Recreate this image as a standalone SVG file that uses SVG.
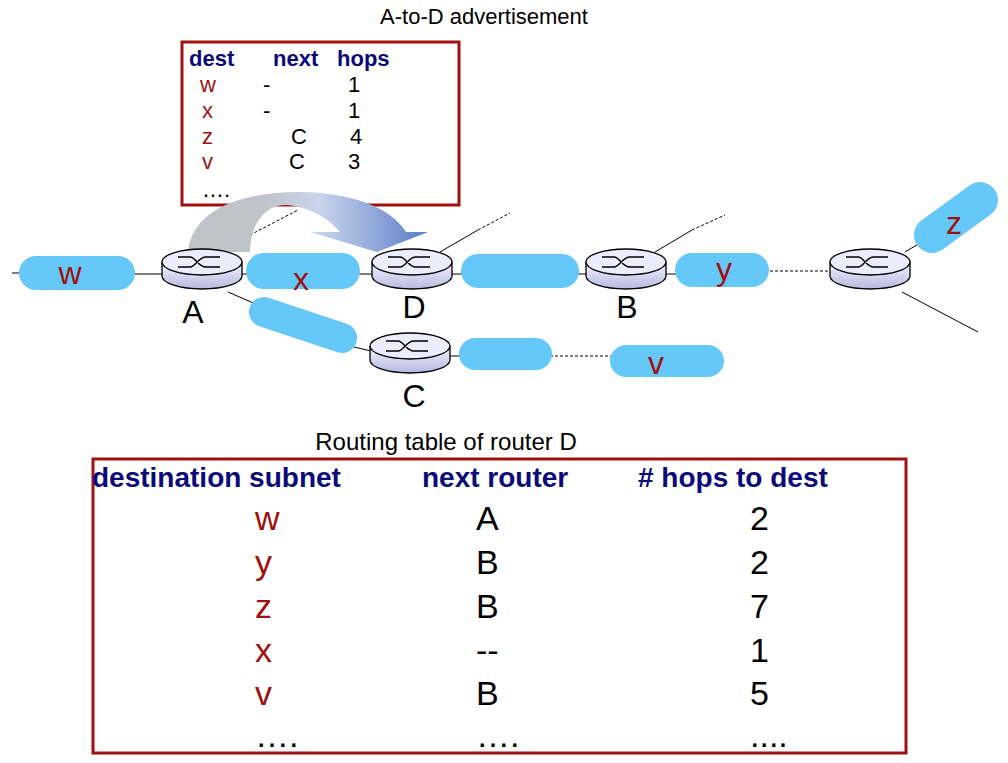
<svg xmlns="http://www.w3.org/2000/svg" width="1008" height="763" viewBox="0 0 1008 763">
<defs>
<linearGradient id="rt" x1="0" y1="0" x2="0" y2="1"><stop offset="0" stop-color="#f4f4ff"/><stop offset="1" stop-color="#b8b8e0"/></linearGradient>
<linearGradient id="arr" x1="0" y1="0" x2="1" y2="0"><stop offset="0.3" stop-color="#c0c4c8"/><stop offset="0.55" stop-color="#c8d4ec"/><stop offset="1" stop-color="#5a7cc8"/></linearGradient>
<g id="router">
<path d="M-40,0 v14 a40,13 0 0 0 80,0 v-14" fill="url(#rt)" stroke="#000" stroke-width="1.3"/>
<ellipse cx="0" cy="0" rx="40" ry="13" fill="#ececfc" stroke="#000" stroke-width="1.3"/>
<path d="M-24,-5 h12 c6,0 8,10 16,10 h14 M-24,5 h12 c6,0 8,-10 16,-10 h14" fill="none" stroke="#000" stroke-width="1.3"/>
</g>
</defs>
<style>
.t{font-family:"Liberation Sans",Arial,sans-serif}
.b{fill:#0a0a78;font-weight:bold}
.r{fill:#a01010}
.blob{fill:none;stroke:#66c8f8;stroke-linecap:round}
.ln{stroke:#000;stroke-width:1;fill:none}
.dl{stroke:#000;stroke-width:1;stroke-dasharray:3,2;fill:none}
.box{fill:none;stroke:#a01010;stroke-width:3}
</style>
<text class="t" x="484" y="24" font-size="22" text-anchor="middle">A-to-D advertisement</text>
<g id="adv">
<rect class="box" x="182" y="42" width="277" height="163" fill="#fff"/>
<g class="t" font-size="22">
<text class="b" x="189" y="66">dest</text><text class="b" x="273" y="66">next</text><text class="b" x="337" y="66">hops</text>
<text class="r" x="200" y="92">w</text><text x="263" y="92">-</text><text x="348" y="92">1</text>
<text class="r" x="202" y="118">x</text><text x="263" y="118">-</text><text x="348" y="118">1</text>
<text class="r" x="202" y="144">z</text><text x="291" y="144">C</text><text x="350" y="144">4</text>
<text class="r" x="202" y="169">v</text><text x="289" y="169">C</text><text x="348" y="169">3</text>
<text x="202" y="197">….</text>
</g>
</g>
<g id="connectors">
<line class="ln" x1="12" y1="273" x2="30" y2="273"/>
<line class="ln" x1="130" y1="274" x2="165" y2="274"/>
<line class="ln" x1="240" y1="274" x2="255" y2="274"/>
<line class="ln" x1="355" y1="274" x2="375" y2="274"/>
<line class="ln" x1="448" y1="274" x2="465" y2="274"/>
<line class="ln" x1="575" y1="274" x2="590" y2="274"/>
<line class="ln" x1="662" y1="274" x2="680" y2="274"/>
<line class="ln" x1="228" y1="292" x2="258" y2="305"/>
<line class="ln" x1="350" y1="346" x2="375" y2="352"/>
<line class="ln" x1="446" y1="356" x2="465" y2="356"/>
<line class="dl" x1="550" y1="356" x2="612" y2="356"/>
<line class="dl" x1="250" y1="235" x2="298" y2="210"/>
<line class="ln" x1="440" y1="252" x2="478" y2="230"/>
<line class="dl" x1="478" y1="230" x2="510" y2="213"/>
<line class="ln" x1="655" y1="252" x2="692" y2="230"/>
<line class="dl" x1="692" y1="230" x2="725" y2="215"/>
<line class="dl" x1="765" y1="271" x2="832" y2="271"/>
<line class="ln" x1="905" y1="252" x2="925" y2="240"/>
<line class="ln" x1="902" y1="292" x2="978" y2="332"/>
</g>
<g id="subnets">
<line class="blob" x1="36" y1="273" x2="118" y2="273" stroke-width="34"/>
<line class="blob" x1="264" y1="271" x2="342" y2="271" stroke-width="36"/>
<line class="blob" x1="478" y1="271" x2="562" y2="271" stroke-width="34"/>
<line class="blob" x1="692" y1="270" x2="752" y2="270" stroke-width="34"/>
<line class="blob" x1="264" y1="312" x2="342" y2="338" stroke-width="30"/>
<line class="blob" x1="475" y1="354" x2="536" y2="354" stroke-width="32"/>
<line class="blob" x1="626" y1="361" x2="708" y2="361" stroke-width="32"/>
<line class="blob" x1="932" y1="235" x2="980" y2="200" stroke-width="36"/>
<g class="t r" font-size="32" text-anchor="middle">
<text x="70" y="284">w</text><text x="301" y="290">x</text><text x="724" y="280">y</text><text x="954" y="234">z</text><text x="656" y="374">v</text>
</g>
</g>
<g id="arrow">
<path d="M188,252 C192,210 240,192 300,192 C350,192 392,208 406,232 L428,232 L377,252 L310,232 L340,232 C325,214 300,205 285,205 C265,205 250,225 250,252 Z" fill="url(#arr)"/>
</g>
<g id="routerA"><use href="#router" x="202" y="262"/><text class="t" x="193" y="323" font-size="32" text-anchor="middle">A</text></g>
<g id="routerD"><use href="#router" x="412" y="262"/><text class="t" x="414" y="318" font-size="32" text-anchor="middle">D</text></g>
<g id="routerB"><use href="#router" x="626" y="262"/><text class="t" x="627" y="318" font-size="32" text-anchor="middle">B</text></g>
<g id="routerC"><use href="#router" x="410" y="346"/><text class="t" x="414" y="407" font-size="32" text-anchor="middle">C</text></g>
<g id="routerE"><use href="#router" x="870" y="262"/></g>
<text class="t" x="446" y="450" font-size="24" text-anchor="middle">Routing table of router D</text>
<g id="table">
<rect class="box" x="93" y="459" width="813" height="294"/>
<g class="t" font-size="28">
<text class="b" x="92" y="487">destination subnet</text><text class="b" x="422" y="487">next  router</text><text class="b" x="638" y="487"># hops to dest</text>
</g>
<g class="t" font-size="34">
<text class="r" x="255" y="530">w</text><text x="476" y="530">A</text><text x="750" y="530">2</text>
<text class="r" x="255" y="574">y</text><text x="476" y="574">B</text><text x="750" y="574">2</text>
<text class="r" x="255" y="618">z</text><text x="476" y="618">B</text><text x="750" y="618">7</text>
<text class="r" x="255" y="662">x</text><text x="476" y="662">--</text><text x="750" y="662">1</text>
<text class="r" x="255" y="705">v</text><text x="476" y="705">B</text><text x="750" y="705">5</text>
<text x="255" y="747">….</text><text x="476" y="747">….</text><text x="750" y="747">....</text>
</g>
</g>
</svg>
